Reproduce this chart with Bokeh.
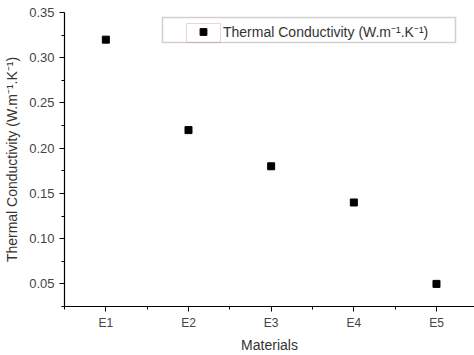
from bokeh.plotting import figure
from bokeh.models import FixedTicker, Legend, LegendItem, BoxAnnotation, PrintfTickFormatter
from bokeh.embed import file_html
from bokeh.resources import INLINE

categories = ["E1", "E2", "E3", "E4", "E5"]
positions = [1, 2, 3, 4, 5]
conductivity = [0.32, 0.22, 0.18, 0.14, 0.05]
y_ticks = [0.05, 0.10, 0.15, 0.20, 0.25, 0.30, 0.35]
y_minor = [0.025, 0.075, 0.125, 0.175, 0.225, 0.275, 0.325]
x_minor = [0.5, 1.5, 2.5, 3.5, 4.5, 5.5]
label_text = "Thermal Conductivity (W.m\u207b\u00b9.K\u207b\u00b9)"

FONT = "Liberation Sans"

p = figure(width=474, height=355, x_range=(0.5, 5.46), y_range=(0.025, 0.35),
           output_backend="svg", toolbar_location=None,
           min_border_left=64, min_border_right=0, min_border_top=12, min_border_bottom=49)
p.outline_line_color = None
p.xgrid.visible = False
p.ygrid.visible = False

r = p.scatter(positions, conductivity, marker="square", size=7, color="black")

p.xaxis.ticker = FixedTicker(ticks=positions, minor_ticks=x_minor)
p.xaxis.major_label_overrides = {i: c for i, c in zip(positions, categories)}
p.yaxis.ticker = FixedTicker(ticks=y_ticks, minor_ticks=y_minor)
p.yaxis.formatter = PrintfTickFormatter(format="%.2f")

for ax in (p.xaxis[0], p.yaxis[0]):
    ax.axis_line_color = "black"
    ax.axis_line_width = 1.2
    ax.major_tick_line_color = "black"
    ax.minor_tick_line_color = "black"
    ax.major_tick_in = 0
    ax.major_tick_out = 5
    ax.minor_tick_in = 0
    ax.minor_tick_out = 3
    ax.major_label_text_font = FONT
    ax.major_label_text_color = "#444444"
    ax.axis_label_text_font = FONT
    ax.axis_label_text_font_style = "normal"
    ax.axis_label_text_font_size = "14px"
    ax.axis_label_text_color = "#333333"

p.xaxis.major_label_text_font_size = "12px"
p.yaxis.major_label_text_font_size = "13px"
p.xaxis.axis_label = "Materials"
p.yaxis.axis_label = label_text
p.xaxis.major_label_standoff = 4
p.yaxis.major_label_standoff = 5
p.xaxis.axis_label_standoff = 4
p.yaxis.axis_label_standoff = 6

# legend frame and glyph box (screen units, relative to the plot frame)
p.add_layout(BoxAnnotation(left=98, right=391, top=289, bottom=264,
                           left_units="screen", right_units="screen",
                           top_units="screen", bottom_units="screen",
                           fill_alpha=0, line_color="#666666", line_width=1.5))
p.add_layout(BoxAnnotation(left=122, right=156, top=283, bottom=264,
                           left_units="screen", right_units="screen",
                           top_units="screen", bottom_units="screen",
                           fill_alpha=0, line_color="#c07070", line_width=1))

legend = Legend(items=[LegendItem(label=label_text, renderers=[r])],
                location=(124, 265), orientation="vertical")
legend.label_text_font = FONT
legend.label_text_font_size = "14px"
legend.label_text_color = "#333333"
legend.border_line_color = None
legend.background_fill_alpha = 0
legend.padding = 0
legend.margin = 0
legend.glyph_width = 30
legend.glyph_height = 17
legend.label_standoff = 5
legend.label_height = 17
p.add_layout(legend)

open("out.html", "w").write(file_html(p, INLINE))
